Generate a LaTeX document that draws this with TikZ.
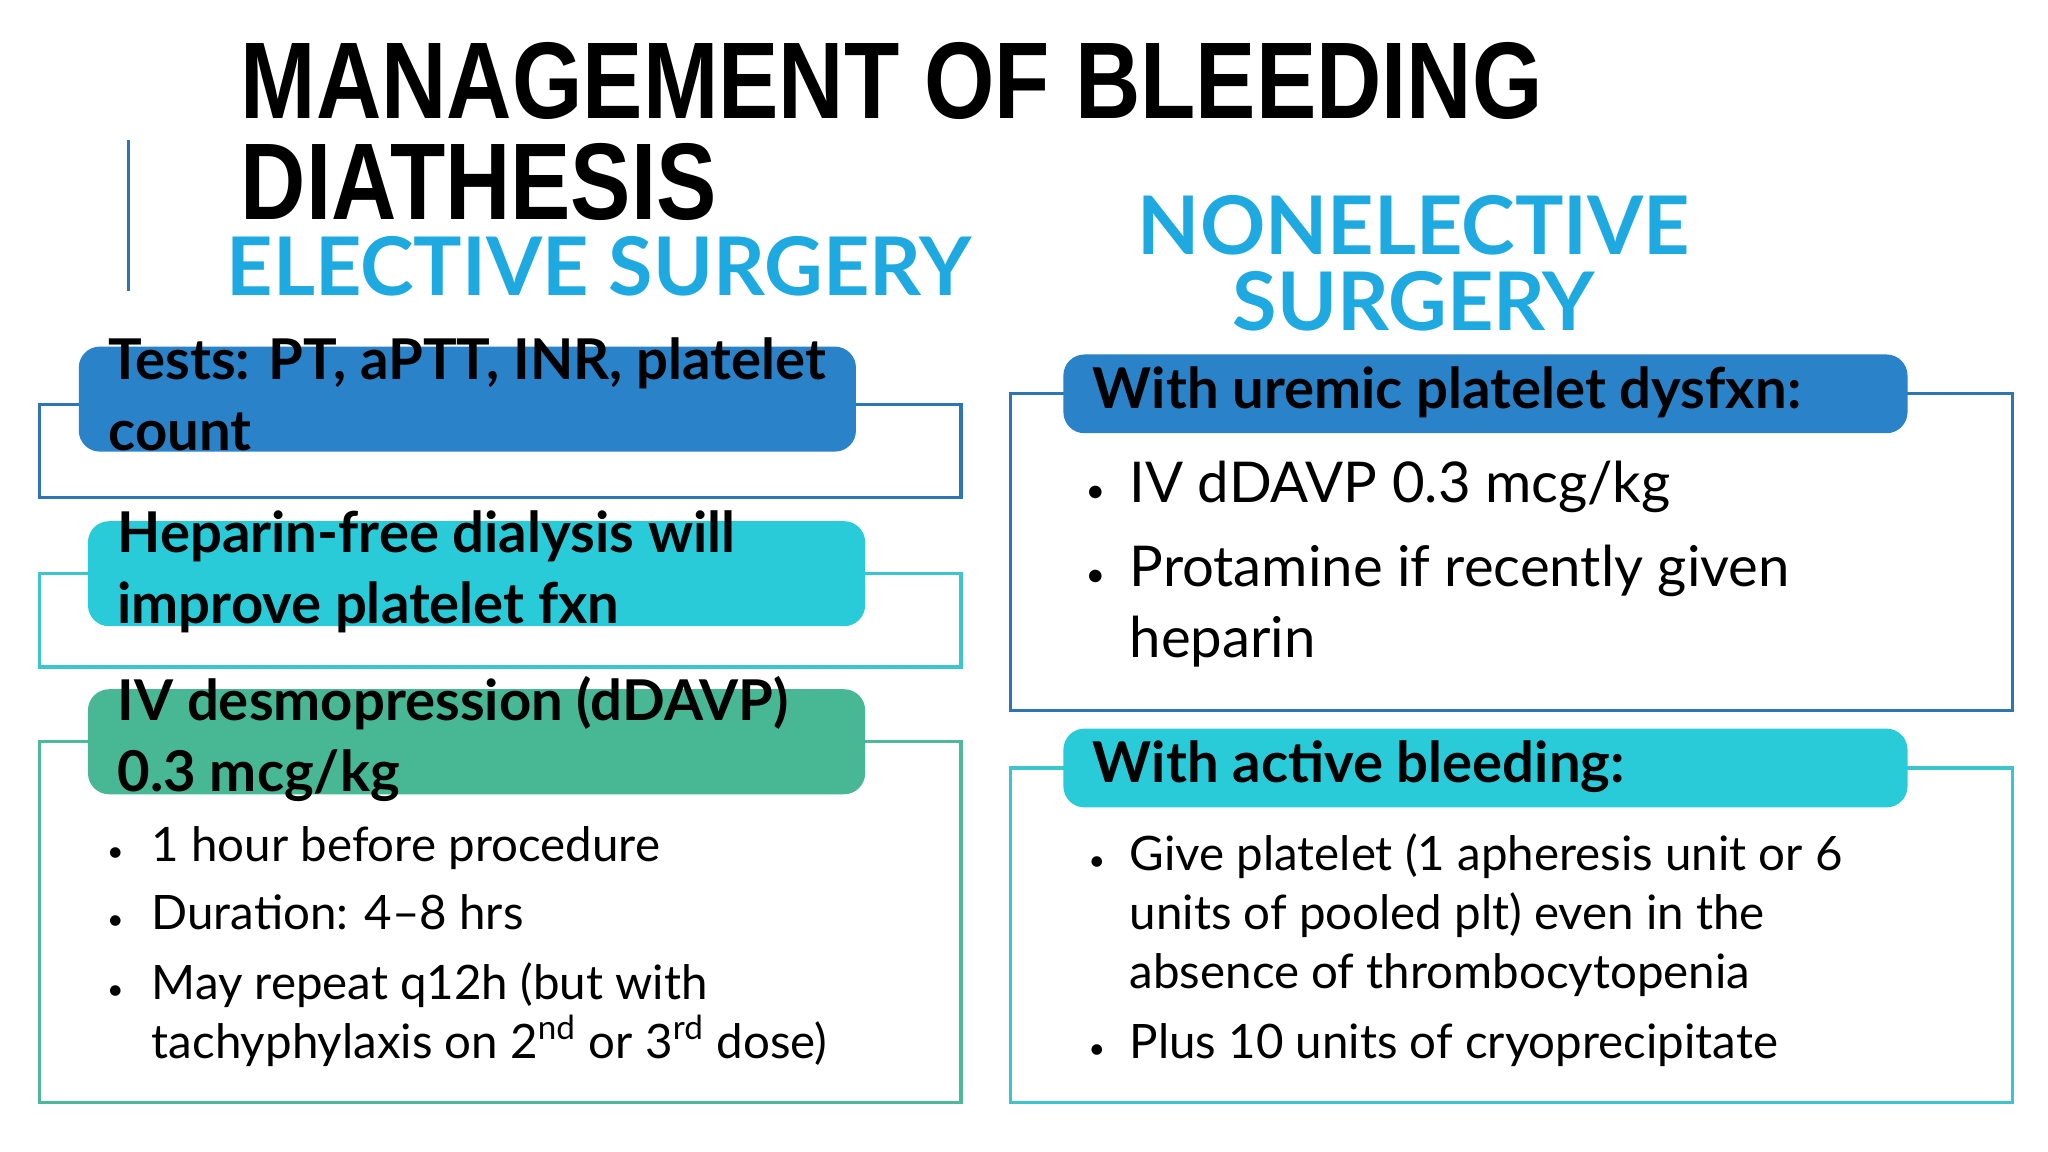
\documentclass[tikz,border=0pt]{standalone}
\usepackage{fontspec}
\setmainfont{Lato}
\newfontfamily\titlefont{Liberation Sans}
\definecolor{hdblue}{HTML}{2A82C8}
\definecolor{hdteal}{HTML}{2ACBD9}
\definecolor{hdgreen}{HTML}{48B894}
\definecolor{lnblue}{HTML}{2E75B6}
\definecolor{lnteal}{HTML}{3CC4CF}
\definecolor{lngreen}{HTML}{4DB89A}
\definecolor{headcyan}{HTML}{1FA9E1}
\tikzset{
  outline/.style={draw=#1, line width=0.9pt},
  header/.style={fill=#1, rounded corners=6pt, draw=none},
  hdtext/.style={anchor=base west, inner sep=0pt, font=\fontsize{16}{19}\selectfont\bfseries},
  item/.style={anchor=base west, inner sep=0pt, font=\fontsize{13.5}{16}\selectfont},
  bigitem/.style={anchor=base west, inner sep=0pt, font=\fontsize{16}{19}\selectfont},
  section/.style={inner sep=0pt, text=headcyan, font=\fontsize{23}{23}\selectfont\bfseries},
}
\newcommand{\bul}[1]{\llap{\scalebox{0.6}{\textbullet}\hspace{#1}}}
\begin{document}
\begin{tikzpicture}[x=0.01313cm, y=-0.01313cm]
\useasboundingbox (0,0) rectangle (1560,877);
\fill[white] (0,0) rectangle (1560,877);
\draw[lnblue, line width=1pt] (98,107)--(98,222);
% title
\node[anchor=base west, inner sep=0pt, font=\titlefont\bfseries\fontsize{31}{31}\selectfont] (title1) at (183,90) {\scalebox{0.83}[1]{MANAGEMENT OF BLEEDING}};
\node[anchor=base west, inner sep=0pt, font=\titlefont\bfseries\fontsize{31}{31}\selectfont] (title2) at (183,167) {\scalebox{0.83}[1]{DIATHESIS}};
\node[section, anchor=base west] (elect) at (172,225) {ELECTIVE SURGERY};
\node[section, anchor=base] (nonel1) at (1077,194) {NONELECTIVE};
\node[section, anchor=base] (nonel2) at (1077,252) {SURGERY};
% left column
\draw[outline=lnblue] (30,308) rectangle (732,379);
\fill[header=hdblue] (60,264) rectangle (652,344);
\node[hdtext] (tests1) at (82,289) {Tests: PT, aPTT, INR, platelet};
\node[hdtext] (tests2) at (82,343) {count};
\draw[outline=lnteal] (30,437) rectangle (732,508);
\fill[header=hdteal] (67,397) rectangle (659,477);
\node[hdtext] (hep1) at (89,421) {Heparin-free dialysis will};
\node[hdtext] (hep2) at (89,475) {improve platelet fxn};
\draw[outline=lngreen] (30,565) rectangle (732,840);
\fill[header=hdgreen] (67,525) rectangle (659,605);
\node[hdtext] (ddavp1) at (89,549) {IV desmopression (dDAVP)};
\node[hdtext] (ddavp2) at (89,603) {0.3 mcg/kg};
\foreach \y/\t in {656/1 hour before procedure, 708/Duration: 4--8 hrs, 761/May repeat q12h (but with}
  \node[item] at (115,\y) {\bul{8pt}\t};
\node[item] (tachy) at (115,806) {tachyphylaxis on 2\textsuperscript{nd} or 3\textsuperscript{rd} dose)};
% right column
\draw[outline=lnblue] (770,300) rectangle (1533,541);
\fill[header=hdblue] (810,270) rectangle (1453,330);
\node[hdtext] (urem) at (832,311) {With uremic platelet dysfxn:};
\node[bigitem] (iv) at (860,383) {\bul{7pt}IV dDAVP 0.3 mcg/kg};
\node[bigitem] (prot) at (860,447) {\bul{7pt}Protamine if recently given};
\node[bigitem] (hepn) at (860,501) {heparin};
\draw[outline=lnteal] (770,585) rectangle (1533,840);
\fill[header=hdteal] (810,555) rectangle (1453,615);
\node[hdtext] (activ) at (832,596) {With active bleeding:};
\node[item] (give1) at (860,663) {\bul{7pt}Give platelet (1 apheresis unit or 6};
\node[item] (give2) at (860,708) {units of pooled plt) even in the};
\node[item] (give3) at (860,753) {absence of thrombocytopenia};
\node[item] (plus) at (860,806) {\bul{7pt}Plus 10 units of cryoprecipitate};
\end{tikzpicture}
\end{document}
